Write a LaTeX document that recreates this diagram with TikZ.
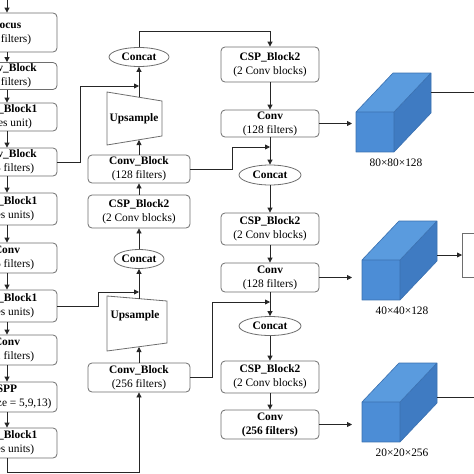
\documentclass[tikz,border=0pt]{standalone}
\usepackage{fontspec}
\setmainfont{Liberation Serif}
\usetikzlibrary{arrows.meta}
\usetikzlibrary{shapes.geometric}
\usepackage{xcolor}
\definecolor{boxgray}{HTML}{6E6E6E}
\definecolor{linegray}{HTML}{262626}
\definecolor{cubefront}{HTML}{4C8DD6}
\definecolor{cubetop}{HTML}{5A9BDE}
\definecolor{cubeside}{HTML}{3F7BC2}
\definecolor{cubeedge}{HTML}{3A70B0}

\tikzset{
  blk/.style={draw=boxgray,line width=0.8pt,fill=white,rounded corners=4pt,align=center,
    minimum height=29pt,inner sep=1pt,font=\fontsize{11.4}{14}\selectfont},
  lblk/.style={blk,minimum width=100pt},
  mblk/.style={blk,minimum width=102pt},
  rblk/.style={blk,minimum width=98pt},
  cat/.style={draw=boxgray,line width=0.8pt,ellipse,fill=white,minimum width=60pt,
    minimum height=19pt,inner sep=0pt,font=\fontsize{11.4}{14}\selectfont\bfseries},
  flow/.style={draw=linegray,line width=0.8pt,-{Triangle[length=5pt,width=5pt]}},
  wire/.style={draw=linegray,line width=0.8pt},
}

\begin{document}
\begin{tikzpicture}[x=1pt,y=-1pt]
\useasboundingbox (0,0) rectangle (474,474);
\clip (0,0) rectangle (474,474);

% backbone (left column)
\node[lblk,minimum height=39pt] (l1) at (7,32.5) {\textbf{Focus}\\(32 filters)};
\node[lblk,minimum height=27pt] (l2) at (7,76) {\textbf{Conv\_Block}\\(64 filters)};
\node[lblk,minimum height=28pt] (l3) at (7,117) {\textbf{CSP\_Block1}\\(1 res unit)};
\node[lblk,minimum height=28pt] (l4) at (7,162) {\textbf{Conv\_Block}\\(128 filters)};
\node[lblk,minimum height=32pt] (l5) at (7,209) {\textbf{CSP\_Block1}\\(3 res units)};
\node[lblk,minimum height=30pt] (l6) at (7,258) {\textbf{Conv}\\(256 filters)};
\node[lblk,minimum height=32pt] (l7) at (7,306) {\textbf{CSP\_Block1}\\(3 res units)};
\node[lblk,minimum height=30pt] (l8) at (7,350) {\textbf{Conv}\\(512 filters)};
\node[lblk,minimum height=30pt] (l9) at (7,397) {\textbf{SPP}\\(pool size = 5,9,13)};
\node[lblk,minimum height=30pt] (l10) at (7,443) {\textbf{CSP\_Block1}\\(3 res units)};

\coordinate (in) at (7,-2);
\draw[flow] (in) -- (l1);
\foreach \a/\b in {l1/l2,l2/l3,l3/l4,l4/l5,l5/l6,l6/l7,l7/l8,l8/l9,l9/l10}
  \draw[flow] (\a) -- (\b);

% neck (middle column)
\node[cat] (mcat1) at (139,57) {Concat};
\draw[draw=boxgray,line width=0.8pt] (107,92) -- (162,101) -- (162,136) -- (107,145) -- cycle;
\node[font=\fontsize{11.4}{14}\selectfont\bfseries] (up1) at (134,119) {Upsample};
\coordinate (up1t) at (139,97);
\coordinate (up1b) at (139,140);
\node[mblk,minimum height=28pt] (mcb1) at (139,169) {\textbf{Conv\_Block}\\(128 filters)};
\node[mblk,minimum height=33pt] (mcsp) at (139,211.5) {\textbf{CSP\_Block2}\\(2 Conv blocks)};
\node[cat,minimum width=50pt] (mcat2) at (139,259) {Concat};
\draw[draw=boxgray,line width=0.8pt] (107,296) -- (167,301) -- (167,343) -- (107,351) -- cycle;
\node[font=\fontsize{11.4}{14}\selectfont\bfseries] (up2) at (135,316) {Upsample};
\coordinate (up2t) at (139,298.5);
\coordinate (up2b) at (139,347);
\node[mblk,minimum height=29pt] (mcb2) at (139,377.5) {\textbf{Conv\_Block}\\(256 filters)};

\draw[flow] (mcb2) -- (up2b);
\draw[flow] (up2t) -- (mcat2);
\draw[flow] (mcat2) -- (mcsp);
\draw[flow] (mcsp) -- (mcb1);
\draw[flow] (mcb1) -- (up1b);
\draw[flow] (up1t) -- (mcat1);

% side inputs from the backbone
\coordinate (j1) at (139,86);
\coordinate (j2) at (139,292);
\draw[flow] (l4.east) -- ++(23,0) |- (j1);
\draw[flow] (l7.east) -- ++(41,0) |- (j2);
\draw[flow] (l10.south) -- ++(0,14) -| (mcb2);

% head (right column)
\node[rblk,minimum height=35pt] (rcsp1) at (270,64.5) {\textbf{CSP\_Block2}\\(2 Conv blocks)};
\node[rblk,minimum height=27pt] (rconv1) at (270,123.5) {\textbf{Conv}\\(128 filters)};
\node[cat,minimum width=62pt,minimum height=20pt] (rcat1) at (270,175) {Concat};
\node[rblk,minimum height=32pt] (rcsp2) at (270,229) {\textbf{CSP\_Block2}\\(2 Conv blocks)};
\node[rblk,minimum height=29pt] (rconv2) at (270,277.5) {\textbf{Conv}\\(128 filters)};
\node[cat,minimum width=62pt] (rcat2) at (270,326) {Concat};
\node[rblk,minimum height=32pt] (rcsp3) at (270,377) {\textbf{CSP\_Block2}\\(2 Conv blocks)};
\node[rblk,minimum height=29pt] (rconv3) at (270,424.5) {\textbf{Conv}\\\textbf{(256 filters)}};

\coordinate (t1) at (139,31);
\draw[flow] (mcat1) -- (t1) -| (rcsp1);
\draw[flow] (rcsp1) -- (rconv1);
\draw[flow] (rconv1) -- (rcat1);
\draw[flow] (rcat1) -- (rcsp2);
\draw[flow] (rcsp2) -- (rconv2);
\draw[flow] (rconv2) -- (rcat2);
\draw[flow] (rcat2) -- (rcsp3);
\draw[flow] (rcsp3) -- (rconv3);

\coordinate (j3) at (270,147);
\coordinate (j4) at (270,302);
\draw[flow] (mcb1.east) -- ++(42,0) |- (j3);
\draw[flow] (mcb2.east) -- ++(22,0) |- (j4);

% output feature maps
\foreach \n/\fx/\fy/\dims in {1/356/112/{80×80×128},2/362/260/{40×40×128},3/362/402/{20×20×256}} {
  \fill[cubefront] (\fx,\fy) rectangle ++(38,40);
  \fill[cubetop] (\fx,\fy) -- ++(37,-39) -- ++(38,0) -- ++(-37,39) -- cycle;
  \fill[cubeside] (\fx+38,\fy) -- ++(37,-39) -- ++(0,40) -- ++(-37,39) -- cycle;
  \draw[cubeedge,line width=0.6pt,line join=round] (\fx,\fy) rectangle ++(38,40)
    (\fx,\fy) -- ++(37,-39) -- ++(38,0) -- ++(-37,39)
    (\fx+75,\fy-39) -- ++(0,40) -- ++(-37,39);
  \node[font=\fontsize{11.4}{14}\selectfont] (dim\n) at (\fx+40,\fy+51) {\dims};
}

\coordinate (cin1) at (352,123.5);
\coordinate (cin2) at (352,277.5);
\coordinate (cin3) at (352,424.5);
\draw[flow] (rconv1) -- (cin1);
\draw[flow] (rconv2) -- (cin2);
\draw[flow] (rconv3) -- (cin3);

\coordinate (cout1) at (431,92);
\coordinate (cout2) at (437,255);
\coordinate (cout3) at (437,397);
\coordinate (edge1) at (480,92);
\coordinate (edge3) at (480,397);
\node[draw=boxgray,line width=0.8pt,minimum width=40pt,minimum height=44pt,anchor=west,inner sep=0pt] (yolo2) at (462,255) {};
\draw[wire] (cout1) -- (edge1);
\draw[flow] (cout2) -- (yolo2);
\draw[wire] (cout3) -- (edge3);
\end{tikzpicture}
\end{document}
